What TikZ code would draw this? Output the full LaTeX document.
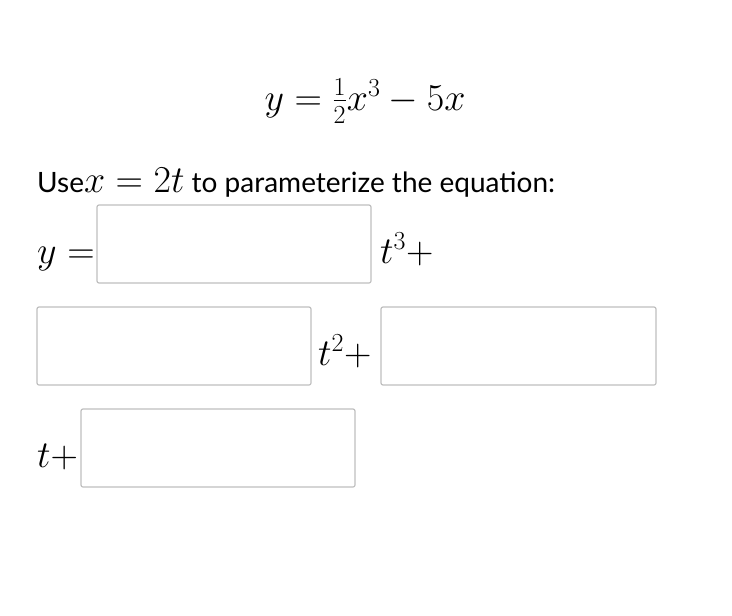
\RequirePackage{fix-cm}
\documentclass[tikz,border=0pt]{standalone}
\usepackage{fontspec}
\setmainfont{Lato}
\DeclareMathSizes{28}{38}{26}{20}
\begin{document}
\begin{tikzpicture}[x=1pt,y=-1pt,
  ansbox/.style={draw=black!25,line width=1.2pt,rounded corners=2pt},
  txt/.style={anchor=base west,inner sep=0pt,font=\fontsize{28}{32}\selectfont}]
\useasboundingbox (0,0) rectangle (732,616);
\node[anchor=base,inner sep=0pt,font=\fontsize{28}{32}\selectfont] (eq) at (365,110) {$y=\frac{1}{2}x^3-5x$};
\node[txt] (use) at (37,192) {Use$x=2t$ to parameterize the equation:};
\node[txt] (yeq) at (37,263) {$y=$};
\draw[ansbox] (97,205) rectangle (371,283);
\node[txt] (t3) at (380,263) {$t^3+$};
\draw[ansbox] (37,307) rectangle (311,385);
\node[txt] (t2) at (318,365) {$t^2+$};
\draw[ansbox] (381,307) rectangle (656,385);
\node[txt] (t1) at (37,467) {$t+$};
\draw[ansbox] (81,409) rectangle (355,487);
\end{tikzpicture}
\end{document}
